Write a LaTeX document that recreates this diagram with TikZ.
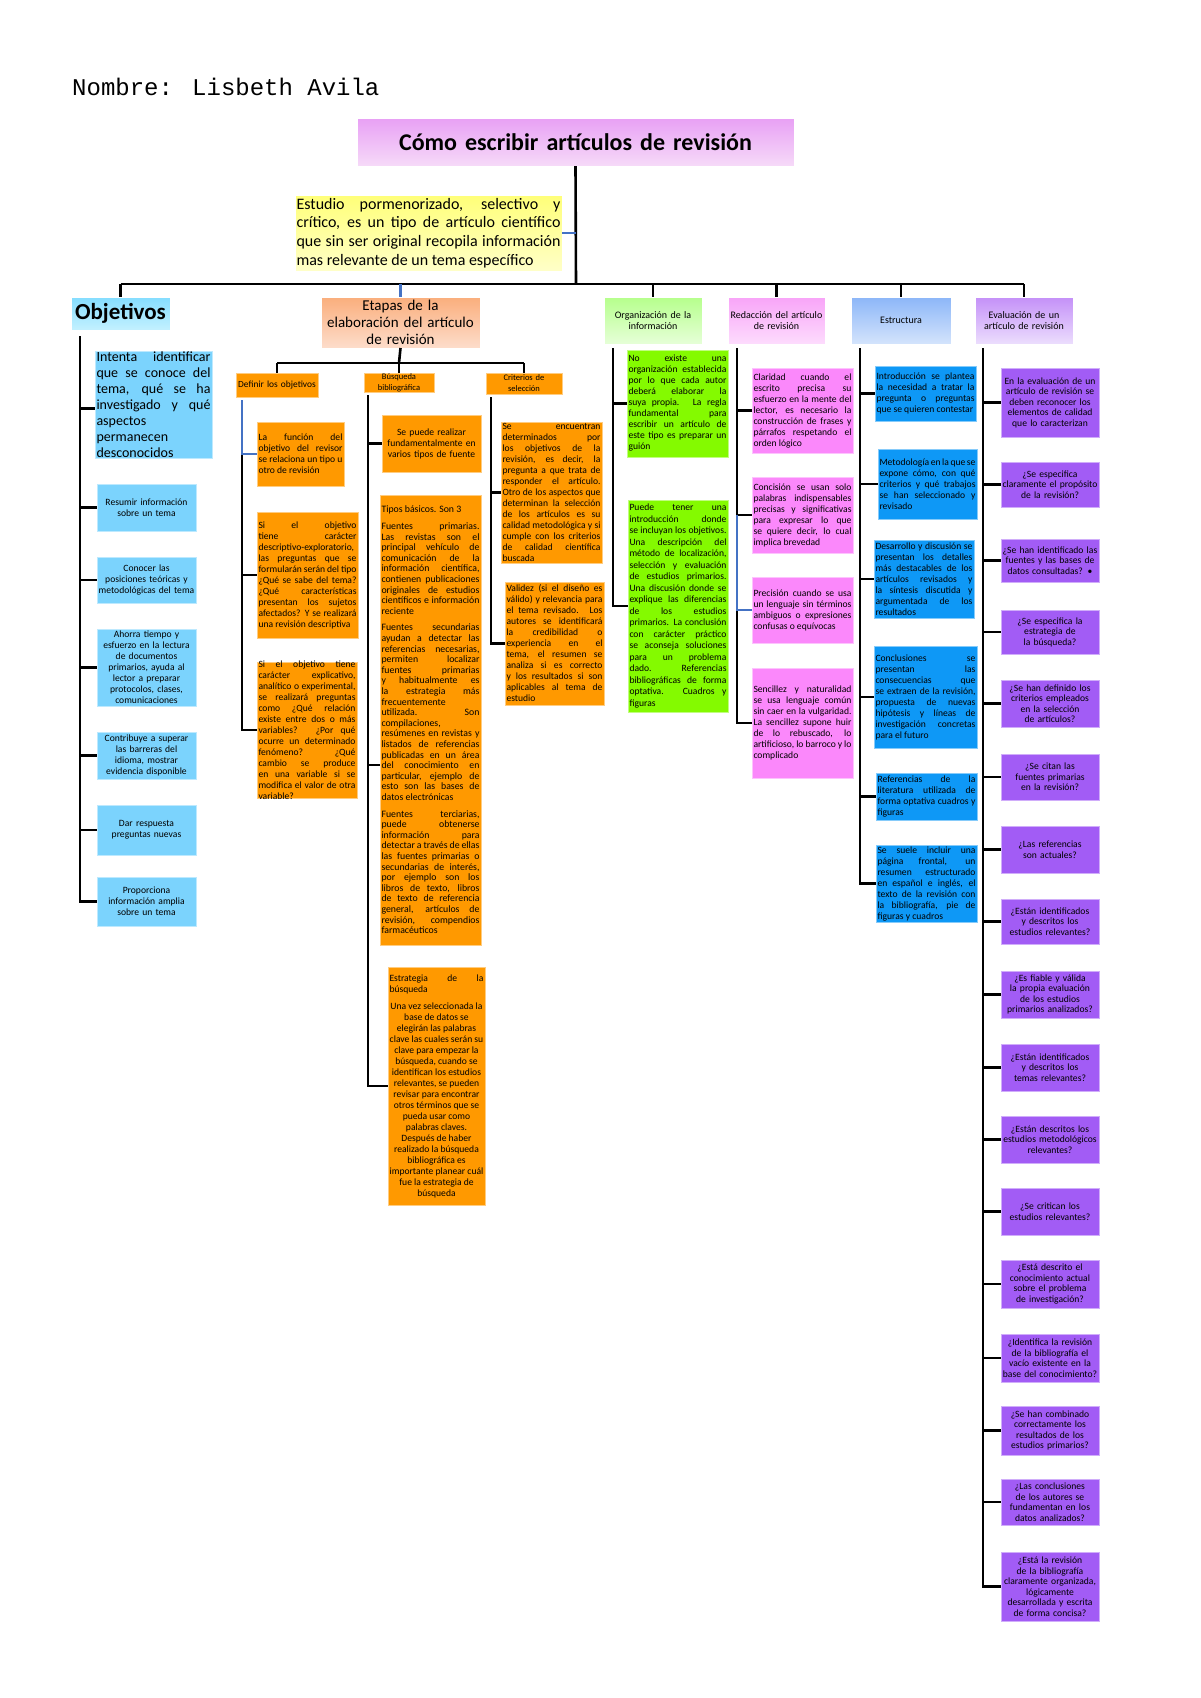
\documentclass[tikz,border=0pt]{standalone}
\usepackage{fontspec}
\setmainfont{Carlito}
\newfontfamily\monof{Liberation Mono}
\usetikzlibrary{calc}
\definecolor{lblue}{HTML}{4472C4}
\definecolor{orng}{HTML}{FF9900}
\definecolor{grn}{HTML}{84FA00}
\definecolor{pnk}{HTML}{FB88FB}
\definecolor{sblue}{HTML}{0E98F6}
\definecolor{oblue}{HTML}{7BD3FD}
\definecolor{prp}{HTML}{A25CF5}
\definecolor{titA}{HTML}{E8A0F5}
\definecolor{titB}{HTML}{F6DAF8}
\definecolor{yelA}{HTML}{FFFF78}
\definecolor{yelB}{HTML}{FFFFC8}
\definecolor{objA}{HTML}{84DDFF}
\definecolor{objB}{HTML}{C4F1FF}
\definecolor{etaA}{HTML}{FAAE7C}
\definecolor{etaB}{HTML}{FDDDCB}
\definecolor{orgA}{HTML}{B6FF8C}
\definecolor{orgB}{HTML}{E6FFD8}
\definecolor{redA}{HTML}{F8A4F8}
\definecolor{redB}{HTML}{FDDCFD}
\definecolor{estA}{HTML}{8CB6F8}
\definecolor{estB}{HTML}{D4E4FC}
\definecolor{evaA}{HTML}{C490F8}
\definecolor{evaB}{HTML}{ECDEFD}
\hyphenpenalty=10000
\exhyphenpenalty=10000
\tolerance=10000
\hbadness=10000
\hfuzz=60pt
\vfuzz=60pt
\newcommand{\bx}[8]{%
  \pgfmathsetmacro{\myBW}{#6-#4}%
  \pgfmathsetmacro{\myBH}{#7-#5}%
  \pgfmathsetmacro{\myTW}{#6-#4-3}%
  \node[#2, minimum width=\myBW pt, minimum height=\myBH pt, anchor=north west, inner sep=0pt, outer sep=0pt] (#1) at (#4,#5) {};
  \node[#3, text width=\myTW pt, inner sep=0pt] (#1-t) at (#1.center) {#8};}
\begin{document}
\begin{tikzpicture}[x=1pt,y=-1pt,
  conn/.style={line width=2.6pt, draw=black},
  bconn/.style={line width=2.4pt, draw=lblue},
  ora/.style={fill=orng, draw=orng!50!white, line width=0.7pt},
  grb/.style={fill=grn, draw=grn!50!white, line width=0.7pt},
  pkb/.style={fill=pnk, draw=pnk!50!white, line width=0.7pt},
  sbb/.style={fill=sblue, draw=sblue!50!white, line width=0.7pt},
  obb/.style={fill=oblue, draw=oblue!50!white, line width=0.7pt},
  prb/.style={fill=prp, draw=prp!50!white, line width=0.7pt},
  grad/.style 2 args={top color=#1, bottom color=#2, draw=white, line width=0.7pt},
  tj/.style={align=justify, font=\fontsize{9.6}{11}\selectfont},
  tjb/.style={align=justify, font=\fontsize{9.8}{10.6}\selectfont},
  tc/.style={align=center, font=\fontsize{9.6}{11}\selectfont},
  tce/.style={align=center, font=\fontsize{9.6}{10.5}\selectfont},
  ths/.style={align=center, font=\fontsize{8.5}{11}\selectfont},
  thm/.style={align=center, font=\fontsize{10}{11}\selectfont},
]
\useasboundingbox (0,0) rectangle (1200,1698);
\fill[white] (0,0) rectangle (1200,1698);

% name
\node[anchor=base west, inner sep=0pt, font=\monof\fontsize{24}{28}\selectfont] (nombre) at (72,95) {Nombre: Lisbeth Avila};

% ---------------- level 0 / 1
\bx{title}{grad={titA}{titB}}{align=center, font=\bfseries\fontsize{24}{28}\selectfont}{357}{118}{794}{166}{Cómo escribir artículos de revisión}
\bx{def}{grad={yelA}{yelB}}{align=justify, font=\fontsize{16}{18.6}\selectfont}{295}{195}{562}{271}{Estudio pormenorizado, selectivo y\linebreak crítico, es un tipo de artículo científico\linebreak que sin ser original recopila información\linebreak mas relevante de un tema específico}

\bx{obj}{grad={objA}{objB}}{align=center, font=\bfseries\fontsize{23}{26}\selectfont}{71}{297}{170}{330}{Objetivos}
\bx{eta}{grad={etaA}{etaB}}{align=center, font=\fontsize{15}{17.2}\selectfont}{321}{297}{480}{348}{Etapas de la\\elaboración del artículo\\de revisión}
\bx{org}{grad={orgA}{orgB}}{thm}{604}{297}{702}{344}{Organización de la\\información}
\bx{red}{grad={redA}{redB}}{thm}{728}{297}{825}{344}{Redacción del artículo\\de revisión}
\bx{est}{grad={estA}{estB}}{thm}{851}{297}{951}{344}{Estructura}
\bx{eva}{grad={evaA}{evaB}}{thm}{975}{297}{1073}{344}{Evaluación de un\\artículo de revisión}

% ---------------- Objetivos children
\bx{ob1}{obb}{align=justify, font=\fontsize{14}{15.9}\selectfont}{95}{351}{212}{458}{Intenta identificar\linebreak que se conoce del\linebreak tema, qué se ha\linebreak investigado y qué\linebreak aspectos\linebreak permanecen\linebreak desconocidos}
\bx{ob2}{obb}{tc}{97}{484}{196}{531}{Resumir información sobre un tema}
\bx{ob3}{obb}{tc}{97}{557}{196}{603}{Conocer las posiciones teóricas y metodológicas del tema}
\bx{ob4}{obb}{tc}{97}{629}{196}{706}{Ahorra tiempo y esfuerzo en la lectura de documentos primarios, ayuda al lector a preparar protocolos, clases, comunicaciones}
\bx{ob5}{obb}{tc}{97}{732}{196}{779}{Contribuye a superar las barreras del idioma, mostrar evidencia disponible}
\bx{ob6}{obb}{tc}{97}{805}{196}{855}{Dar respuesta preguntas nuevas}
\bx{ob7}{obb}{tc}{97}{877}{196}{926}{Proporciona información amplia sobre un tema}

% ---------------- Etapas sub-headers
\bx{defh}{ora}{align=center, font=\fontsize{9.4}{11}\selectfont}{236}{373}{318}{397}{Definir los objetivos}
\bx{bush}{ora}{ths}{364}{373}{434}{392}{Búsqueda\\bibliográfica}
\bx{crih}{ora}{ths}{486}{373}{562}{394}{Criterios de\\selección}

% Definir children
\bx{d1}{ora}{tj}{257}{422}{344}{486}{La función del objetivo del revisor se relaciona un tipo u otro de revisión}
\bx{d2}{ora}{tj}{257}{512}{358}{638}{Si el objetivo tiene carácter descriptivo-exploratorio, las preguntas que se formularán serán del tipo ¿Qué se sabe del tema? ¿Qué características presentan los sujetos afectados? Y se realizará una revisión descriptiva}
\bx{d3}{ora}{tj}{257}{662}{357}{798}{Si el objetivo tiene carácter explicativo, analítico o experimental, se realizará preguntas como ¿Qué relación existe entre dos o más variables? ¿Por qué ocurre un determinado fenómeno? ¿Qué cambio se produce en una variable si se modifica el valor de otra variable?}

% Busqueda children
\bx{b1}{ora}{tc}{382}{415}{481}{472}{Se puede realizar fundamentalmente en varios tipos de fuente}
\bx{b2}{ora}{tjb}{380}{495}{481}{945}{Tipos básicos. Son 3\par\vskip6pt
Fuentes primarias. Las revistas son el principal vehículo de comunicación de la información científica, contienen publicaciones originales de estudios científicos e información reciente\par\vskip6pt
Fuentes secundarias ayudan a detectar las referencias necesarias, permiten localizar fuentes primarias y habitualmente es la estrategia más frecuentemente utilizada. Son compilaciones, resúmenes en revistas y listados de referencias publicadas en un área del conocimiento en particular, ejemplo de esto son las bases de datos electrónicas\par\vskip6pt
Fuentes terciarias, puede obtenerse información para detectar a través de ellas las fuentes primarias o secundarias de interés, por ejemplo son los libros de texto, libros de texto de referencia general, artículos de revisión, compendios farmacéuticos}
\bx{b3}{ora}{tj}{388}{967}{485}{1205}{Estrategia de la\linebreak búsqueda\par\vskip6pt
{\leftskip=0pt plus 1fil\rightskip=0pt plus 1fil\parfillskip=0pt Una vez seleccionada la base de datos se elegirán las palabras clave las cuales serán su clave para empezar la búsqueda, cuando se identifican los estudios relevantes, se pueden revisar para encontrar otros términos que se pueda usar como palabras claves. Después de haber realizado la búsqueda bibliográfica es importante planear cuál fue la estrategia de búsqueda\par}}

% Criterios children
\bx{c1}{ora}{tj}{501}{422}{602}{563}{Se encuentran determinados por los objetivos de la revisión, es decir, la pregunta a que trata de responder el artículo. Otro de los aspectos que determinan la selección de los artículos es su calidad metodológica y si cumple con los criterios de calidad científica buscada}
\bx{c2}{ora}{tj}{505}{582}{604}{705}{Validez (si el diseño es válido) y relevancia para el tema revisado. Los autores se identificará la credibilidad o experiencia en el tema, el resumen se analiza si es correcto y los resultados si son aplicables al tema de estudio}

% Organizacion children
\bx{o1}{grb}{tj}{627}{350}{728}{457}{No existe una organización establecida por lo que cada autor deberá elaborar la suya propia. La regla fundamental para escribir un artículo de este tipo es preparar un guión}
\bx{o2}{grb}{align=justify, font=\fontsize{9.6}{11.5}\selectfont}{628}{500}{728}{712}{Puede tener una introducción donde se incluyan los objetivos. Una descripción del método de localización, selección y evaluación de estudios primarios. Una discusión donde se explique las diferencias de los estudios primarios. La conclusión con carácter práctico se aconseja soluciones para un problema dado. Referencias bibliográficas de forma optativa. Cuadros y figuras}

% Redaccion children
\bx{r1}{pkb}{tj}{752}{368}{853}{453}{Claridad cuando el escrito precisa su esfuerzo en la mente del lector, es necesario la construcción de frases y párrafos respetando el orden lógico}
\bx{r2}{pkb}{tj}{752}{477}{853}{553}{Concisión se usan solo palabras indispensables precisas y significativas para expresar lo que se quiere decir, lo cual implica brevedad}
\bx{r3}{pkb}{tj}{752}{577}{853}{643}{Precisión cuando se usa un lenguaje sin términos ambiguos o expresiones confusas o equívocas}
\bx{r4}{pkb}{tj}{752}{668}{853}{778}{Sencillez y naturalidad se usa lenguaje común sin caer en la vulgaridad. La sencillez supone huir de lo rebuscado, lo artificioso, lo barroco y lo complicado}

% Estructura children
\bx{e1}{sbb}{tj}{875}{366}{976}{421}{Introducción se plantea la necesidad a tratar la pregunta o preguntas que se quieren contestar}
\bx{e2}{sbb}{tj}{878}{449}{977}{519}{Metodología en la que se expone cómo, con qué criterios y qué trabajos se han seleccionado y revisado}
\bx{e3}{sbb}{tj}{874}{540}{974}{618}{Desarrollo y discusión se presentan los detalles más destacables de los artículos revisados y la síntesis discutida y argumentada de los resultados}
\bx{e4}{sbb}{tj}{874}{646}{977}{748}{Conclusiones se presentan las consecuencias que se extraen de la revisión, propuesta de nuevas hipótesis y líneas de investigación concretas para el futuro}
\bx{e5}{sbb}{tj}{876}{773}{977}{820}{Referencias de la literatura utilizada de forma optativa cuadros y figuras}
\bx{e6}{sbb}{tj}{876}{845}{977}{922}{Se suele incluir una página frontal, un resumen estructurado en español e inglés, el texto de la revisión con la bibliografía, pie de figuras y cuadros}

% Evaluacion children
\bx{ev1}{prb}{tce}{1001}{368}{1099}{437}{En la evaluación de un artículo de revisión se deben reconocer los elementos de calidad que lo caracterizan}
\bx{ev2}{prb}{tce}{1001}{462}{1099}{507}{¿Se especifica claramente el propósito de la revisión?}
\bx{ev3}{prb}{tce}{1001}{539}{1099}{582}{¿Se han identificado las fuentes y las bases de datos consultadas? •}
\bx{ev4}{prb}{tce}{1001}{610}{1099}{654}{¿Se especifica la estrategia de la búsqueda?}
\bx{ev5}{prb}{tce}{1001}{680}{1099}{727}{¿Se han definido los criterios empleados en la selección de artículos?}
\bx{ev6}{prb}{tce}{1001}{754}{1099}{800}{¿Se citan las fuentes primarias en la revisión?}
\bx{ev7}{prb}{tce}{1001}{826}{1099}{873}{¿Las referencias son actuales?}
\bx{ev8}{prb}{tce}{1001}{899}{1099}{944}{¿Están identificados y descritos los estudios relevantes?}
\bx{ev9}{prb}{tce}{1001}{971}{1099}{1018}{¿Es fiable y válida la propia evaluación de los estudios primarios analizados?}
\bx{ev10}{prb}{tce}{1001}{1044}{1099}{1091}{¿Están identificados y descritos los temas relevantes?}
\bx{ev11}{prb}{tce}{1001}{1116}{1099}{1163}{¿Están descritos los estudios metodológicos relevantes?}
\bx{ev12}{prb}{tce}{1001}{1188}{1099}{1235}{¿Se critican los estudios relevantes?}
\bx{ev13}{prb}{tce}{1001}{1260}{1099}{1308}{¿Está descrito el conocimiento actual sobre el problema de investigación?}
\bx{ev14}{prb}{tce}{1001}{1334}{1099}{1382}{¿Identifica la revisión de la bibliografía el vacío existente en la base del conocimiento?}
\bx{ev15}{prb}{tce}{1001}{1406}{1099}{1455}{¿Se han combinado correctamente los resultados de los estudios primarios?}
\bx{ev16}{prb}{tce}{1001}{1479}{1099}{1525}{¿Las conclusiones de los autores se fundamentan en los datos analizados?}
\bx{ev17}{prb}{tce}{1001}{1552}{1099}{1621}{¿Está la revisión de la bibliografía claramente organizada, lógicamente desarrollada y escrita de forma concisa?}

% ---------------- connectors
\coordinate (topbus) at (576,284);
\draw[conn] (title.south) -- (topbus);
\draw[conn] (obj.north |- topbus) -- (eva.north |- topbus);
\draw[conn] (obj.north |- topbus) -- (obj.north);
\draw[bconn] (eta.north |- topbus) -- (eta.north);
\draw[conn] (org.north |- topbus) -- (org.north);
\draw[conn] (red.north |- topbus) -- (red.north);
\draw[conn] (est.north |- topbus) -- (est.north);
\draw[conn] (eva.north |- topbus) -- (eva.north);
\draw[bconn] (def.east) -- (def.east -| title.south);

% Objetivos trunk
\coordinate (objT) at (80,336);
\draw[conn] (objT) -- (objT |- ob7.west) -- (ob7.west);
\foreach \c in {ob2,ob3,ob4,ob5,ob6} \draw[conn] (objT |- \c.west) -- (\c.west);
\coordinate (ob1k) at ([yshift=-4pt]ob1.west);
\draw[conn] (objT |- ob1k) -- (ob1k);

% Etapas
\coordinate (etabus) at (399,363);
\draw[conn] (eta.south) -- (etabus);
\draw[conn] (defh.north |- etabus) -- (crih.north |- etabus);
\draw[conn] (defh.north |- etabus) -- (defh.north);
\draw[conn] (bush.north |- etabus) -- (bush.north);
\draw[conn] (crih.north |- etabus) -- (crih.north);

% Definir trunk
\coordinate (defT) at (242,400);
\draw[conn] (defT |- d1.west) -- (defT |- d3.west) -- (d3.west);
\draw[conn] (defT |- d2.west) -- (d2.west);
\draw[bconn] (defT) -- (defT |- d1.west) -- (d1.west);

% Busqueda trunk
\coordinate (busT) at (368,395);
\draw[conn] (busT) -- (busT |- b3.west) -- (b3.west);
\draw[conn] (busT |- b1.west) -- (b1.west);
\coordinate (b2k) at ([yshift=-45pt]b2.west);
\draw[conn] (busT |- b2k) -- (b2k);

% Criterios trunk
\coordinate (criT) at (491,397);
\draw[conn] (criT) -- (criT |- c2.west) -- (c2.west);
\draw[conn] (criT |- c1.west) -- (c1.west);

% Organizacion trunk
\coordinate (orgT) at (613,348);
\draw[conn] (orgT) -- (orgT |- o2.west) -- (o2.west);
\draw[conn] (orgT |- o1.west) -- (o1.west);

% Redaccion trunk
\coordinate (redT) at (737,348);
\draw[conn] (redT) -- (redT |- r4.west) -- (r4.west);
\draw[conn] (redT |- r1.west) -- (r1.west);
\draw[conn] (redT |- r2.west) -- (r2.west);
\draw[bconn] (redT |- r2.west) -- (redT |- r3.west) -- (r3.west);

% Estructura trunk
\coordinate (estT) at (860,348);
\draw[conn] (estT) -- (estT |- e6.west) -- (e6.west);
\foreach \c in {e1,e2,e3,e4,e5} \draw[conn] (estT |- \c.west) -- (\c.west);

% Evaluacion trunk
\coordinate (evaT) at (983,348);
\draw[conn] (evaT) -- (evaT |- ev17.west) -- (ev17.west);
\foreach \c in {ev1,ev2,ev3,ev4,ev5,ev6,ev7,ev8,ev9,ev10,ev11,ev12,ev13,ev14,ev15,ev16} \draw[conn] (evaT |- \c.west) -- (\c.west);
\end{tikzpicture}
\end{document}
